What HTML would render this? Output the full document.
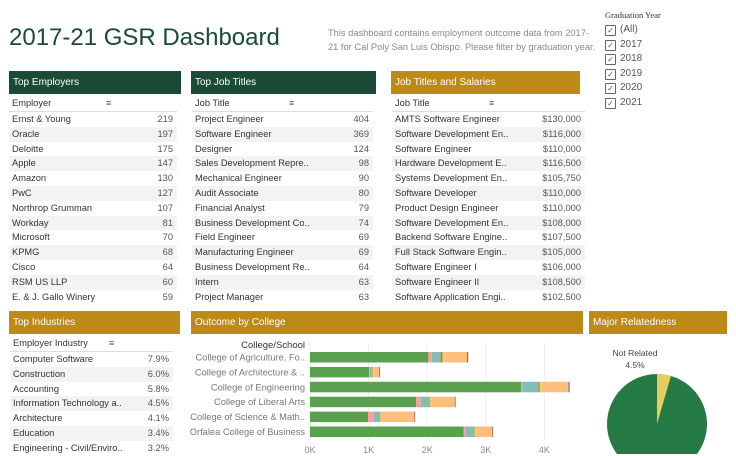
<!DOCTYPE html>
<html><head><meta charset="utf-8"><style>
body{margin:0;width:736px;height:454px;overflow:hidden;background:#fff;font-family:"Liberation Sans",sans-serif;position:relative}
.a{position:absolute}
.hdr{position:absolute;height:23px;color:#fff;font-size:10px;line-height:24px;padding-left:4px;box-sizing:border-box}
.g{background:#1b4a36}.y{background:#bd8a18}
.tbl{position:absolute;font-size:9.3px;color:#333}
.row{height:14.8px;line-height:14.8px;position:relative;padding-left:3px}
.row:nth-child(even){background:#f3f3f3}
.row .v{position:absolute;right:4px;top:0;color:#555}
.th{height:15px;line-height:15px;border-bottom:1px solid #ddd;padding-left:3px;position:relative;color:#333}
.th .s{position:absolute;font-size:9px;color:#555}
.cb{font-size:10px;color:#555;height:14.6px;line-height:14.6px}
.cb span{display:inline-block;width:9px;height:9px;border:1px solid #666;border-radius:1px;font-size:8px;line-height:9px;text-align:center;margin-right:4px;vertical-align:-1px}
</style></head><body>
<div class="a" style="left:9px;top:24px;font-size:24px;color:#1b4a36">2017-21 GSR Dashboard</div>
<div class="a" style="left:328px;top:26px;width:270px;font-size:9.3px;line-height:14px;color:#888">This dashboard contains employment outcome data from 2017-21 for Cal Poly San Luis Obispo. Please filter by graduation year.</div>
<div class="a" style="left:605px;top:10px">
<div style="font-family:'Liberation Serif',serif;font-size:8.5px;color:#333;margin-bottom:3px">Graduation Year</div>
<div class="cb"><span>✓</span>(All)</div>
<div class="cb"><span>✓</span>2017</div>
<div class="cb"><span>✓</span>2018</div>
<div class="cb"><span>✓</span>2019</div>
<div class="cb"><span>✓</span>2020</div>
<div class="cb"><span>✓</span>2021</div>
</div>

<div class="hdr g" style="left:9px;top:71px;width:172px">Top Employers</div>
<div class="hdr g" style="left:191px;top:71px;width:185px">Top Job Titles</div>
<div class="hdr y" style="left:391px;top:71px;width:189px">Job Titles and Salaries</div>
<div class="hdr y" style="left:9px;top:311px;width:171px">Top Industries</div>
<div class="hdr y" style="left:191px;top:311px;width:392px">Outcome by College</div>
<div class="hdr y" style="left:589px;top:311px;width:138px">Major Relatedness</div>

<div class="tbl" id="t1" style="left:9px;top:96px;width:168px"></div>
<div class="tbl" id="t2" style="left:192px;top:96px;width:181px"></div>
<div class="tbl" id="t3" style="left:392px;top:96px;width:193px"></div>
<div class="tbl" id="t4" style="left:10px;top:336px;width:163px"></div>

<svg class="a" id="bars" style="left:0;top:0" width="736" height="454"></svg>

<script>
function mk(id,head,sx,rows){
  var t=document.getElementById(id);
  var h=document.createElement('div');h.className='th';
  
  
  h.innerHTML=head+'<span class="s" style="left:'+sx+'px">&#8801;</span>';t.appendChild(h);
  var b=document.createElement('div');t.appendChild(b);
  rows.forEach(function(r){var d=document.createElement('div');d.className='row';
    
    
    d.innerHTML=r[0]+'<span class="v">'+r[1]+'</span>';b.appendChild(d);});
}
mk('t1','Employer',97,[["Ernst &amp; Young",219],["Oracle",197],["Deloitte",175],["Apple",147],["Amazon",130],["PwC",127],["Northrop Grumman",107],["Workday",81],["Microsoft",70],["KPMG",68],["Cisco",64],["RSM US LLP",60],["E. &amp; J. Gallo Winery",59]]);
mk('t2','Job Title',97,[["Project Engineer",404],["Software Engineer",369],["Designer",124],["Sales Development Repre..",98],["Mechanical Engineer",90],["Audit Associate",80],["Financial Analyst",79],["Business Development Co..",74],["Field Engineer",69],["Manufacturing Engineer",69],["Business Development Re..",64],["Intern",63],["Project Manager",63]]);
mk('t3','Job Title',97,[["AMTS Software Engineer","$130,000"],["Software Development En..","$116,000"],["Software Engineer","$110,000"],["Hardware Development E..","$116,500"],["Systems Development En..","$105,750"],["Software Developer","$110,000"],["Product Design Engineer","$110,000"],["Software Development En..","$108,000"],["Backend Software Engine..","$107,500"],["Full Stack Software Engin..","$105,000"],["Software Engineer I","$106,000"],["Software Engineer II","$108,500"],["Software Application Engi..","$102,500"]]);
mk('t4','Employer Industry',99,[["Computer Software","7.9%"],["Construction","6.0%"],["Accounting","5.8%"],["Information Technology a..","4.5%"],["Architecture","4.1%"],["Education","3.4%"],["Engineering - Civil/Enviro..","3.2%"]]);
</script>
<script>
var colleges=["College of Agriculture, Fo..","College of Architecture & ..","College of Engineering","College of Liberal Arts","College of Science & Math..","Orfalea College of Business"];
var employed=[2020,1010,3600,1810,990,2620];
var outcomeB=[60,10,20,80,100,30];
var outcomeC=[150,40,280,140,100,150];
var outcomeD=[30,10,20,10,10,10];
var outcomeE=[40,10,40,50,20,40];
var outcomeF=[380,100,450,380,560,260];
var outcomeG=[20,15,20,15,15,15];
var ticks=[0,1000,2000,3000,4000];
var tickLabels=["0K","1K","2K","3K","4K"];
var pieVals=[95.5,4.5];
var NS='http://www.w3.org/2000/svg';
var svg=document.getElementById('bars');
function el(n,a){var e=document.createElementNS(NS,n);for(var k in a)e.setAttribute(k,a[k]);svg.appendChild(e);return e;}
function x(v){return 310+v*0.0586;}
function y(i){return 352+i*14.9;}
ticks.forEach(function(t,i){
  var l=el('line',{x1:x(t),x2:x(t),y1:343,y2:440,stroke:'#eee'});
  
  
  var tx=el('text',{x:x(t),y:453,'font-size':9,fill:'#888','text-anchor':'middle','font-family':'Liberation Sans'});
  tx.textContent=tickLabels[i];
  
  
});
var ah=el('text',{x:305,y:348,'font-size':9.5,fill:'#333','text-anchor':'end','font-family':'Liberation Sans'});
ah.textContent='College/School';


var series=[employed,outcomeB,outcomeC,outcomeD,outcomeE,outcomeF,outcomeG];
var cols=['#59a14f','#ff9d9a','#86bcb6','#8c8a3a','#f1ce63','#ffbe7d','#79706e'];
colleges.forEach(function(c,i){
  var t=el('text',{x:305,y:y(i)+8.5,'font-size':9.3,fill:'#777','text-anchor':'end','font-family':'Liberation Sans'});
  t.textContent=c;
  
  
  var acc=0;
  series.forEach(function(s,j){
    var r=el('rect',{x:x(acc),y:y(i),width:Math.max(0,x(acc+s[i])-x(acc)),height:10.5,fill:cols[j]});
    
    
    acc+=s[i];
  });
});
var cx=657,cy=424,R=50;
var pc=['#257a45','#e5cd62'];
var total=pieVals[0]+pieVals[1];
var a0=-Math.PI/2,a1=a0+2*Math.PI*pieVals[1]/total;
var big=el('circle',{cx:cx,cy:cy,r:R,fill:pc[0]});


var p=el('path',{d:'M'+cx+','+cy+' L'+(cx+R*Math.cos(a0))+','+(cy+R*Math.sin(a0))+' A'+R+','+R+' 0 0 1 '+(cx+R*Math.cos(a1))+','+(cy+R*Math.sin(a1))+' Z',fill:pc[1]});


var l1=el('text',{x:635,y:356,'font-size':8.5,fill:'#444','text-anchor':'middle','font-family':'Liberation Sans'});
l1.textContent='Not Related';


var l2=el('text',{x:635,y:368,'font-size':8.5,fill:'#444','text-anchor':'middle','font-family':'Liberation Sans'});
l2.textContent=pieVals[1]+'%';


</script>
</body></html>
